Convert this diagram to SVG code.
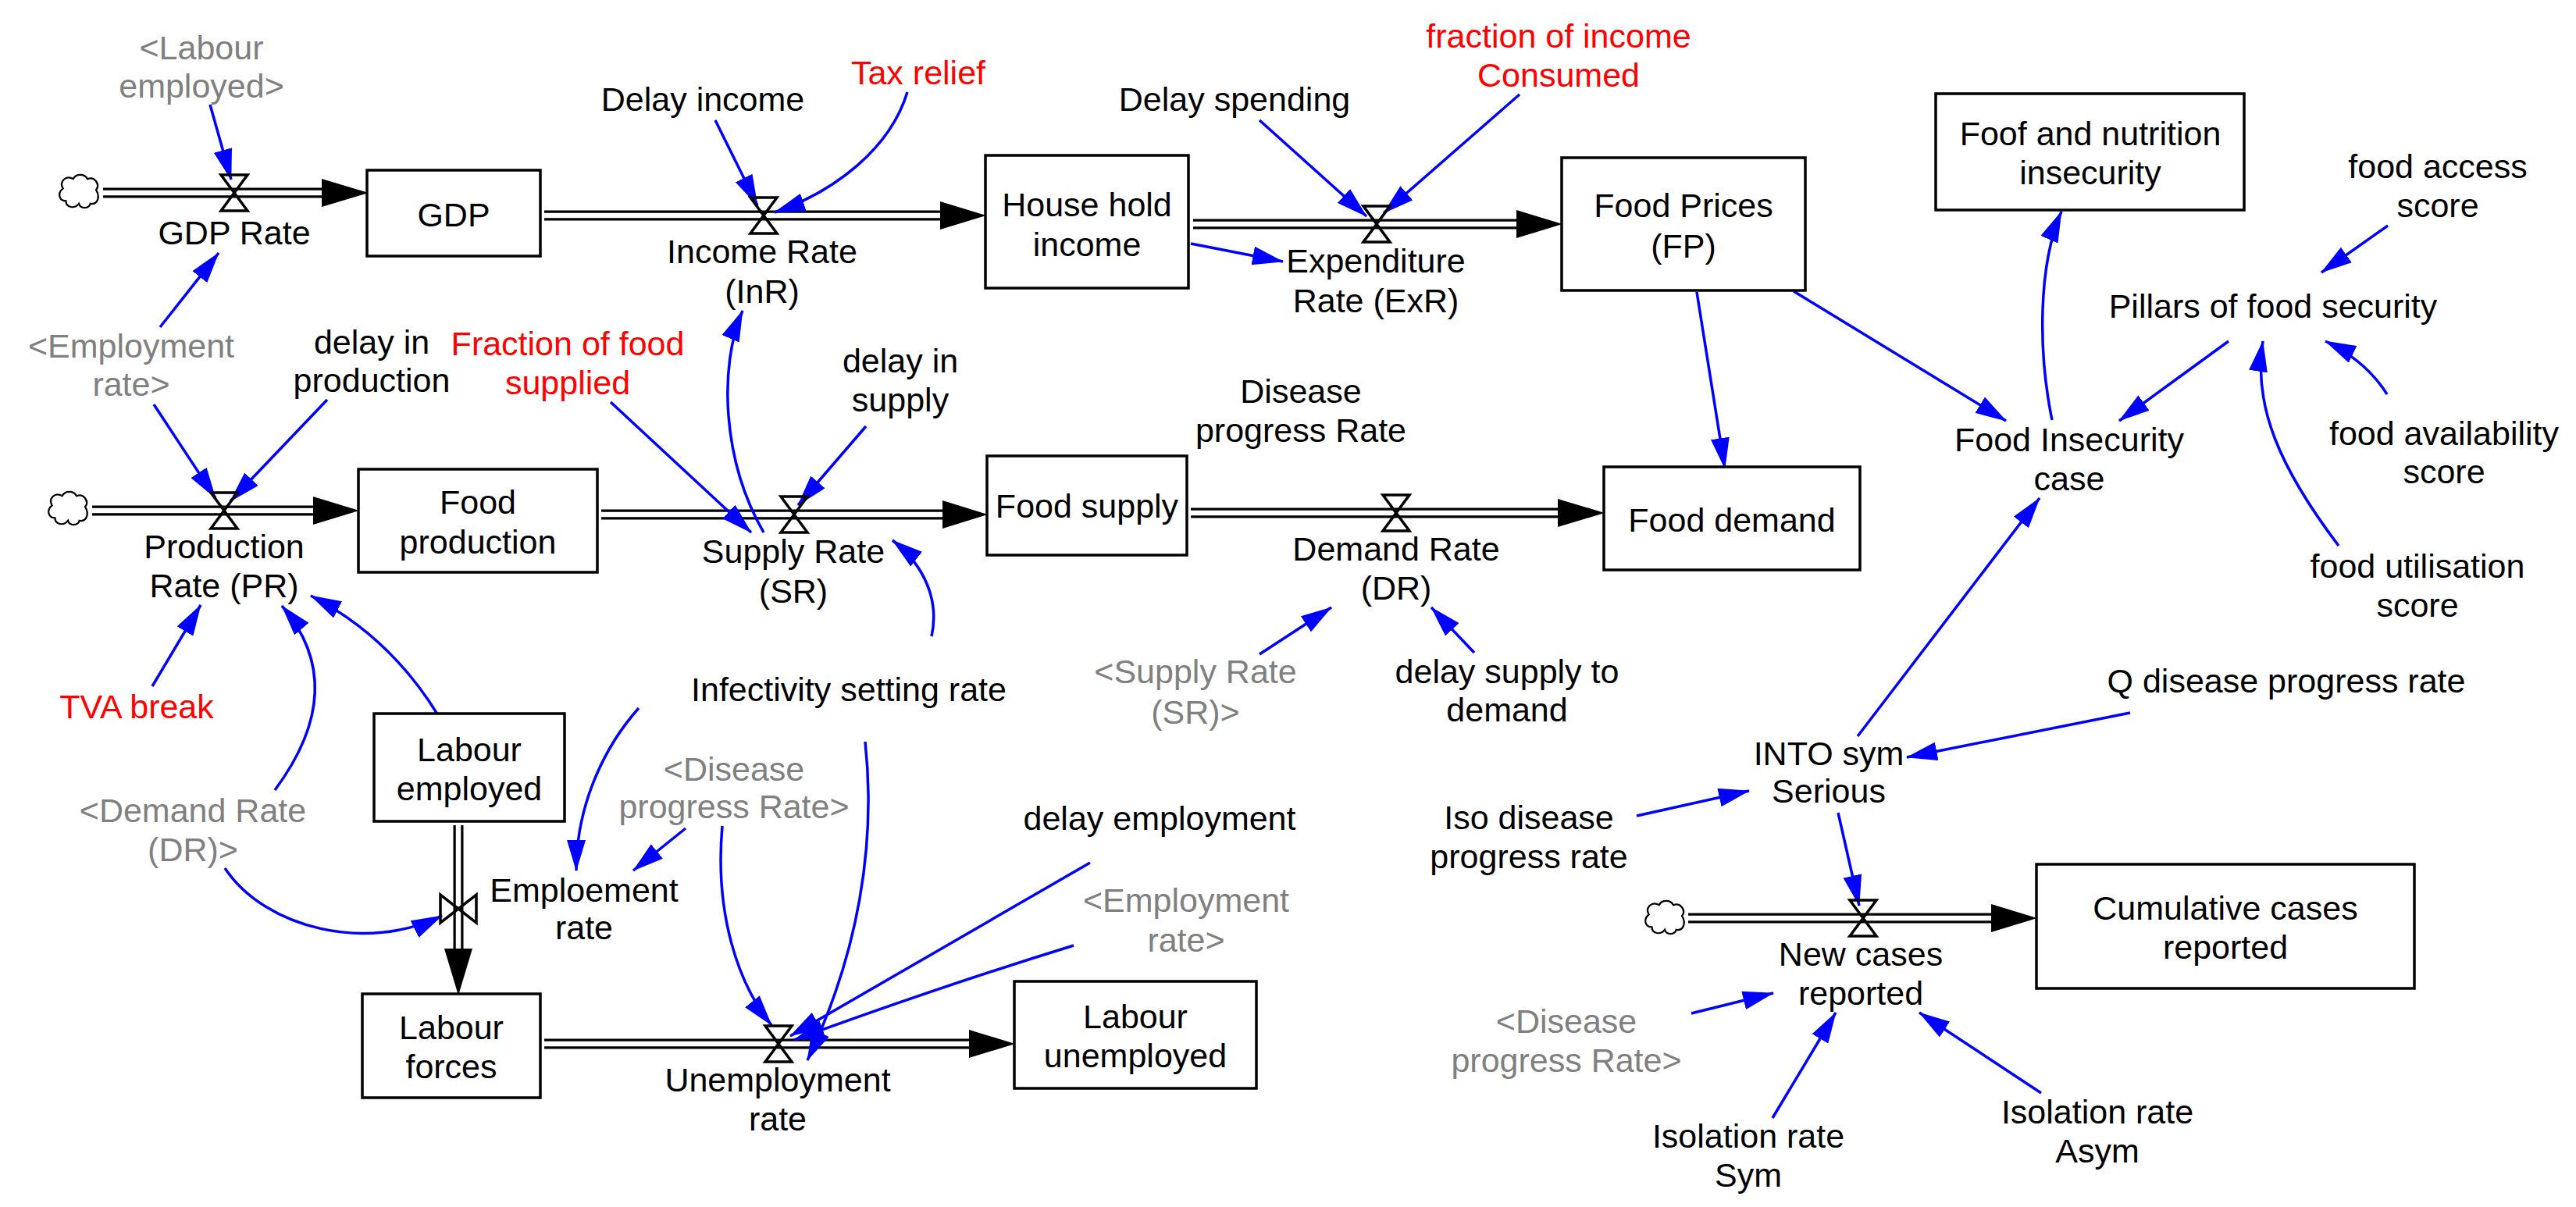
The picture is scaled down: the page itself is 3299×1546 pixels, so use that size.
<svg xmlns="http://www.w3.org/2000/svg" width="3299" height="1546" viewBox="0 0 3299 1546">
<style>
text{font-family:"Liberation Sans",Arial,sans-serif;font-size:43px;text-anchor:middle;fill:#000}
.g{fill:#808080}
.r{fill:#FF0000}
.stock{fill:#fff;stroke:#000;stroke-width:3.5}
.valve{fill:none;stroke:#000;stroke-width:3.5;stroke-linejoin:miter}
.pipeo{stroke:#000;stroke-width:13;fill:none}
.pipei{stroke:#fff;stroke-width:6.5;fill:none}
.head{fill:#000}
.link{fill:none;stroke:#0000FF;stroke-width:3.5;marker-end:url(#ah)}
.cloud{fill:#fff;stroke:#000;stroke-width:2.5}
</style>
<defs>
<marker id="ah" viewBox="0 0 40 24" refX="39" refY="12" markerWidth="40" markerHeight="24" orient="auto" markerUnits="userSpaceOnUse"><path d="M0,0 L40,12 L0,24 Z" fill="#0000FF"/></marker>
<path id="cloudshape" d="M-22,-4 C-28,-14 -18,-24 -8,-18 C-4,-26 8,-26 12,-18 C22,-22 30,-10 24,-2 C30,8 26,20 16,18 C14,26 2,26 0,18 C-6,26 -18,24 -18,14 C-28,14 -30,2 -22,-4 Z"/>
</defs>
<rect width="3299" height="1546" fill="#fff"/>

<g id="connectors">
<g id="pipes">
<path class="pipeo" d="M132,247H413"/><path class="pipei" d="M132,247H413"/><path class="head" d="M412,229L472,247L412,265Z"/>
<path class="pipeo" d="M697,276H1205"/><path class="pipei" d="M697,276H1205"/><path class="head" d="M1204,258L1263,276L1204,294Z"/>
<path class="pipeo" d="M1528,287H1943"/><path class="pipei" d="M1528,287H1943"/><path class="head" d="M1942,269L2001,287L1942,305Z"/>
<path class="pipeo" d="M118,654H402"/><path class="pipei" d="M118,654H402"/><path class="head" d="M401,636L460,654L401,672Z"/>
<path class="pipeo" d="M770,659H1208"/><path class="pipei" d="M770,659H1208"/><path class="head" d="M1207,641L1265,659L1207,677Z"/>
<path class="pipeo" d="M1525,657H1996"/><path class="pipei" d="M1525,657H1996"/><path class="head" d="M1995,639L2055,657L1995,675Z"/>
<path class="pipeo" d="M587,1057V1216"/><path class="pipei" d="M587,1057V1216"/><path class="head" d="M569,1215L605,1215L587,1275Z"/>
<path class="pipeo" d="M697,1337H1242"/><path class="pipei" d="M697,1337H1242"/><path class="head" d="M1241,1319L1300,1337L1241,1355Z"/>
<path class="pipeo" d="M2162,1176H2551"/><path class="pipei" d="M2162,1176H2551"/><path class="head" d="M2550,1158L2609,1176L2550,1194Z"/>
</g>
<g id="links">
<path class="link" d="M269,134 L296,230"/>
<path class="link" d="M205,419 L280,324"/>
<path class="link" d="M197,518 L276,638"/>
<path class="link" d="M419,512 L295,642"/>
<path class="link" d="M195,879 L257,775"/>
<path class="link" d="M352,1012 Q450,880 361,776"/>
<path class="link" d="M561,916 Q499,815 398,763"/>
<path class="link" d="M782,515 L962,682"/>
<path class="link" d="M978,682 C925,590 920,470 951,398"/>
<path class="link" d="M1109,546 L1022,647"/>
<path class="link" d="M1193,815 C1203,770 1185,725 1143,692"/>
<path class="link" d="M916,154 L970,263"/>
<path class="link" d="M1162,118 C1140,190 1070,245 992,272"/>
<path class="link" d="M1525,312 L1643,335"/>
<path class="link" d="M1613,154 L1750,277"/>
<path class="link" d="M1946,121 L1772,273"/>
<path class="link" d="M2173,374 L2209,600"/>
<path class="link" d="M2297,373 L2569,539"/>
<path class="link" d="M3058,289 L2973,349"/>
<path class="link" d="M2854,437 L2714,539"/>
<path class="link" d="M3057,505 Q3030,462 2978,437"/>
<path class="link" d="M2995,699 C2920,600 2885,520 2898,437"/>
<path class="link" d="M2628,538 C2610,450 2610,340 2640,271"/>
<path class="link" d="M1613,838 L1705,778"/>
<path class="link" d="M1888,836 L1833,778"/>
<path class="link" d="M2728,913 L2442,970"/>
<path class="link" d="M2379,943 L2612,638"/>
<path class="link" d="M2096,1045 L2240,1013"/>
<path class="link" d="M2354,1041 L2381,1160"/>
<path class="link" d="M2166,1298 L2271,1272"/>
<path class="link" d="M2270,1432 L2351,1297"/>
<path class="link" d="M2614,1400 L2458,1297"/>
<path class="link" d="M288,1112 C340,1190 470,1220 566,1173"/>
<path class="link" d="M818,907 C775,955 738,1030 738,1115"/>
<path class="link" d="M878,1061 L811,1115"/>
<path class="link" d="M925,1058 C915,1170 945,1260 988,1313"/>
<path class="link" d="M1108,950 C1122,1080 1100,1220 1034,1358"/>
<path class="link" d="M1396,1105 L1012,1327"/>
<path class="link" d="M1375,1211 Q1200,1265 1017,1332"/>
</g>
</g>

<g id="cloud-gdp"><use href="#cloudshape" class="cloud" transform="translate(101,245) scale(0.92,0.88)"/></g>
<g id="cloud-production"><use href="#cloudshape" class="cloud" transform="translate(87,651) scale(0.92,0.88)"/></g>
<g id="cloud-cases"><use href="#cloudshape" class="cloud" transform="translate(2132,1175) scale(0.92,0.88)"/></g>

<g id="gdp"><rect class="stock" x="470" y="218" width="222" height="110"/><text x="581" y="290">GDP</text></g>
<g id="household-income"><rect class="stock" x="1262" y="199" width="260" height="170"/><text x="1392" y="277">House hold</text><text x="1392" y="328">income</text></g>
<g id="food-prices"><rect class="stock" x="2000" y="202" width="312" height="170"/><text x="2156" y="278">Food Prices</text><text x="2156" y="330">(FP)</text></g>
<g id="food-nutrition-insecurity"><rect class="stock" x="2479" y="120" width="395" height="149"/><text x="2677" y="186">Foof and nutrition</text><text x="2677" y="236">insecurity</text></g>
<g id="food-production"><rect class="stock" x="459" y="601" width="306" height="132"/><text x="612" y="658">Food</text><text x="612" y="709">production</text></g>
<g id="food-supply"><rect class="stock" x="1264" y="584" width="256" height="127"/><text x="1392" y="663">Food supply</text></g>
<g id="food-demand"><rect class="stock" x="2054" y="598" width="328" height="132"/><text x="2218" y="681">Food demand</text></g>
<g id="labour-employed"><rect class="stock" x="479" y="914" width="244" height="138"/><text x="601" y="975">Labour</text><text x="601" y="1025">employed</text></g>
<g id="labour-forces"><rect class="stock" x="464" y="1273" width="228" height="133"/><text x="578" y="1331">Labour</text><text x="578" y="1381">forces</text></g>
<g id="labour-unemployed"><rect class="stock" x="1299" y="1257" width="310" height="137"/><text x="1454" y="1317">Labour</text><text x="1454" y="1367">unemployed</text></g>
<g id="cumulative-cases"><rect class="stock" x="2608" y="1107" width="484" height="159"/><text x="2850" y="1178">Cumulative cases</text><text x="2850" y="1228">reported</text></g>

<g id="gdp-rate"><path class="valve" d="M283,224H317L283,270H317Z"/><text x="300" y="313">GDP Rate</text></g>
<g id="income-rate"><path class="valve" d="M961,253H995L961,299H995Z"/><text x="976" y="337">Income Rate</text><text x="976" y="388">(InR)</text></g>
<g id="expenditure-rate"><path class="valve" d="M1746,264H1780L1746,310H1780Z"/><text x="1762" y="349">Expenditure</text><text x="1762" y="400">Rate (ExR)</text></g>
<g id="production-rate"><path class="valve" d="M270,631H304L270,677H304Z"/><text x="287" y="715">Production</text><text x="287" y="765">Rate (PR)</text></g>
<g id="supply-rate"><path class="valve" d="M1000,636H1034L1000,682H1034Z"/><text x="1016" y="721">Supply Rate</text><text x="1016" y="772">(SR)</text></g>
<g id="demand-rate"><path class="valve" d="M1771,634H1805L1771,680H1805Z"/><text x="1788" y="718">Demand Rate</text><text x="1788" y="768">(DR)</text></g>
<g id="emploement-rate"><path class="valve" d="M564,1146V1182L610,1146V1182Z"/><text x="748" y="1155">Emploement</text><text x="748" y="1203">rate</text></g>
<g id="unemployment-rate"><path class="valve" d="M980,1314H1014L980,1360H1014Z"/><text x="996" y="1398">Unemployment</text><text x="996" y="1448">rate</text></g>
<g id="new-cases-reported"><path class="valve" d="M2369,1153H2403L2369,1199H2403Z"/><text x="2383" y="1237">New cases</text><text x="2383" y="1287">reported</text></g>

<g id="labour-employed-ref"><text class="g" x="258" y="76">&lt;Labour</text><text class="g" x="258" y="125">employed&gt;</text></g>
<g id="employment-rate-ref-1"><text class="g" x="168" y="458">&lt;Employment</text><text class="g" x="168" y="507">rate&gt;</text></g>
<g id="delay-in-production"><text x="476" y="453">delay in</text><text x="476" y="502">production</text></g>
<g id="fraction-food-supplied"><text class="r" x="727" y="455">Fraction of food</text><text class="r" x="727" y="505">supplied</text></g>
<g id="delay-income"><text x="900" y="142">Delay income</text></g>
<g id="tax-relief"><text class="r" x="1176" y="108">Tax relief</text></g>
<g id="delay-spending"><text x="1581" y="142">Delay spending</text></g>
<g id="fraction-income-consumed"><text class="r" x="1996" y="61">fraction of income</text><text class="r" x="1996" y="111">Consumed</text></g>
<g id="delay-in-supply"><text x="1153" y="477">delay in</text><text x="1153" y="527">supply</text></g>
<g id="disease-progress-rate"><text x="1666" y="516">Disease</text><text x="1666" y="566">progress Rate</text></g>
<g id="food-access-score"><text x="3122" y="228">food access</text><text x="3122" y="278">score</text></g>
<g id="pillars-food-security"><text x="2911" y="407">Pillars of food security</text></g>
<g id="food-insecurity-case"><text x="2650" y="578">Food Insecurity</text><text x="2650" y="628">case</text></g>
<g id="food-availability-score"><text x="3130" y="570">food availability</text><text x="3130" y="619">score</text></g>
<g id="food-utilisation-score"><text x="3096" y="740">food utilisation</text><text x="3096" y="790">score</text></g>
<g id="q-disease-progress-rate"><text x="2928" y="887">Q disease progress rate</text></g>
<g id="into-sym-serious"><text x="2342" y="980">INTO sym</text><text x="2342" y="1028">Serious</text></g>
<g id="infectivity-setting-rate"><text x="1087" y="898">Infectivity setting rate</text></g>
<g id="supply-rate-ref"><text class="g" x="1531" y="875">&lt;Supply Rate</text><text class="g" x="1531" y="927">(SR)&gt;</text></g>
<g id="delay-supply-to-demand"><text x="1930" y="875">delay supply to</text><text x="1930" y="924">demand</text></g>
<g id="tva-break"><text class="r" x="175" y="920">TVA break</text></g>
<g id="demand-rate-ref"><text class="g" x="247" y="1053">&lt;Demand Rate</text><text class="g" x="247" y="1103">(DR)&gt;</text></g>
<g id="disease-progress-rate-ref-1"><text class="g" x="940" y="1000">&lt;Disease</text><text class="g" x="940" y="1048">progress Rate&gt;</text></g>
<g id="delay-employment"><text x="1485" y="1063">delay employment</text></g>
<g id="employment-rate-ref-2"><text class="g" x="1519" y="1168">&lt;Employment</text><text class="g" x="1519" y="1219">rate&gt;</text></g>
<g id="iso-disease-progress-rate"><text x="1958" y="1062">Iso disease</text><text x="1958" y="1112">progress rate</text></g>
<g id="disease-progress-rate-ref-2"><text class="g" x="2006" y="1323">&lt;Disease</text><text class="g" x="2006" y="1373">progress Rate&gt;</text></g>
<g id="isolation-rate-sym"><text x="2239" y="1470">Isolation rate</text><text x="2239" y="1520">Sym</text></g>
<g id="isolation-rate-asym"><text x="2686" y="1439">Isolation rate</text><text x="2686" y="1489">Asym</text></g>
</svg>
